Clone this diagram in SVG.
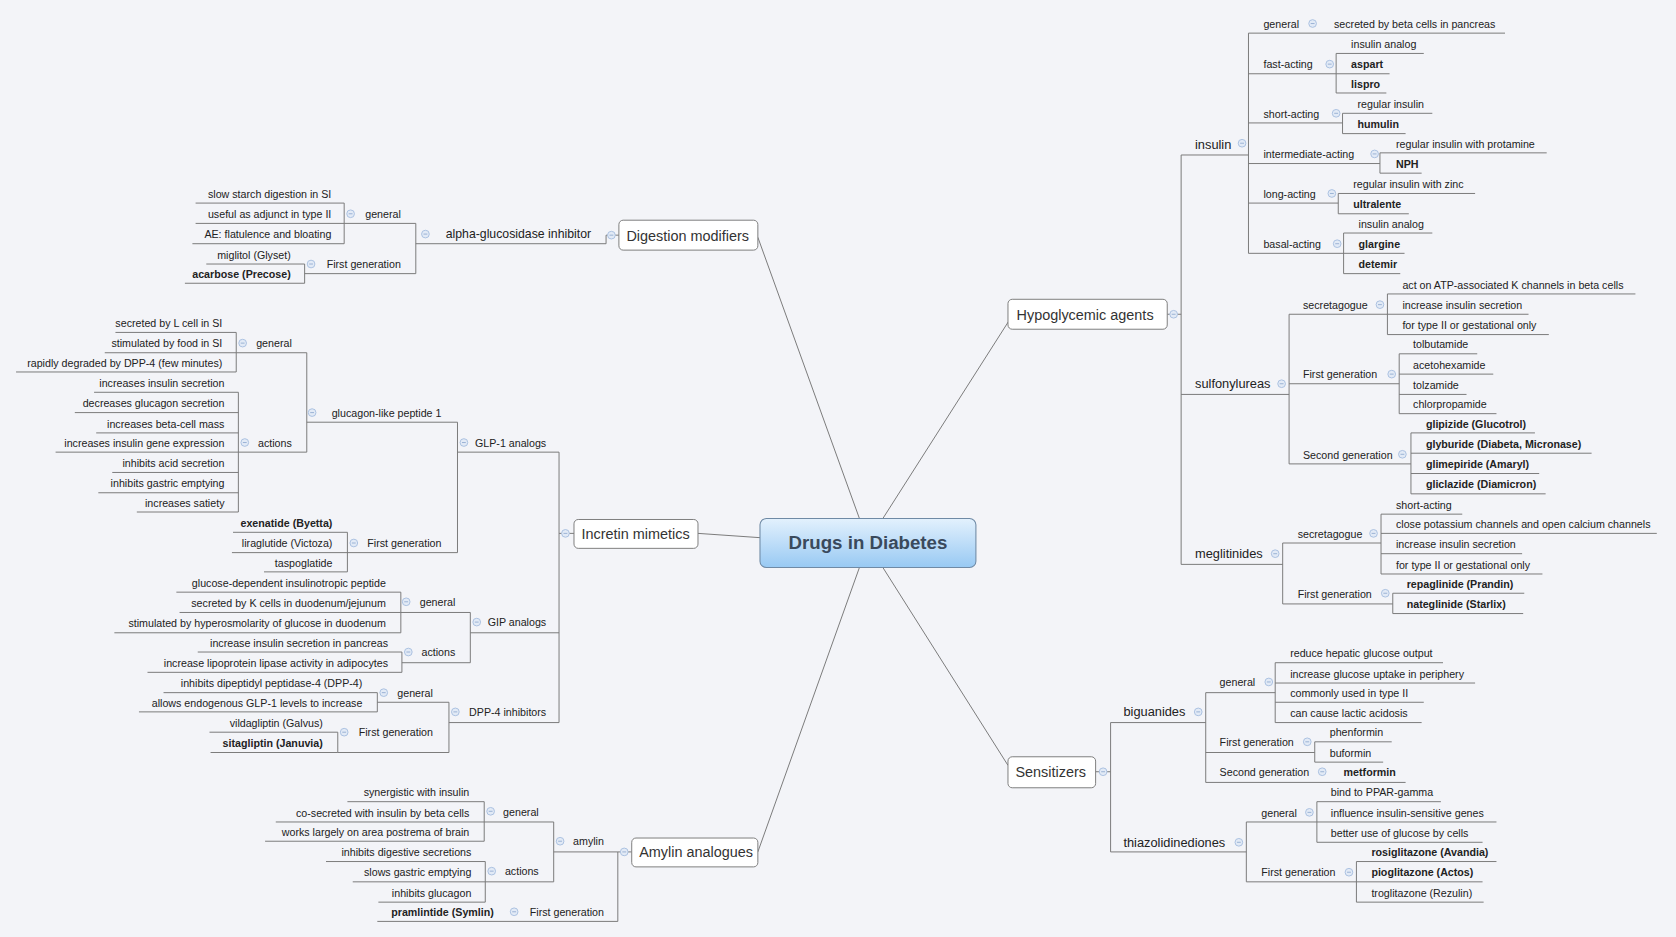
<svg xmlns="http://www.w3.org/2000/svg" width="1676" height="937" viewBox="0 0 1676 937">
<defs>
<linearGradient id="cg" x1="0" y1="0" x2="0" y2="1"><stop offset="0" stop-color="#e3f1fd"/><stop offset="1" stop-color="#98c9f3"/></linearGradient>
<g id="c"><circle r="3.6" fill="#e2eaf6" stroke="#a9c0e0" stroke-width="0.9"/><path d="M-1.8,0H1.8" stroke="#8fa9cf" stroke-width="0.8"/></g>
<style>
text{font-family:"Liberation Sans",Arial,sans-serif;font-size:10px;fill:#222}
.b{font-weight:bold}.e{text-anchor:end}.m{font-size:12px}.k{font-size:13.5px;fill:#333}
.l{fill:none;stroke:#777;stroke-width:0.9}
.box{fill:#fff;stroke:#7a7a7a;stroke-width:0.9}
</style>
</defs>
<rect width="1676" height="937" fill="#f3f4f8"/>
<g transform="scale(1.0689)">
<g id="connectors" class="l">
<path d="M826,485L944,300M804,485L709,222M711,503L653,499M804,531L709,797M826,531L943,716"/>
<path d="M1092,294H1105M1105,145V528M1105,145H1168M1105,369H1206M1105,528H1200"/>
<path d="M1168,31V237M1168,31H1408M1168,69H1250M1168,115H1256M1168,153H1291M1168,190H1252M1168,237H1257"/>
<path d="M1250,50V87H1297M1250,50H1332M1250,69H1300M1256,106V125H1315M1256,106H1340M1291,143V162H1330M1291,143H1447M1252,181V200H1318M1252,181H1380M1257,218V256H1310M1257,218H1340M1257,237H1314"/>
<path d="M1206,294V434M1206,294H1298M1206,359H1309M1206,434H1320M1298,275V313H1449M1298,275H1530M1298,294H1430M1309,331V387H1400M1309,331H1382M1309,350H1397M1309,369H1372M1320,405V462H1446M1320,405H1436M1320,424H1489M1320,443H1440"/>
<path d="M1200,508V565M1200,508H1292M1200,565H1303M1292,481V537H1443M1292,481H1368M1292,499H1550M1292,518H1424M1303,555V574H1425M1303,555H1426"/>
<path d="M1025,722H1039M1039,676V797M1039,676H1128M1039,797H1166M1128,648V732M1128,648H1193M1128,704H1230M1128,732H1315M1193,620V676H1330M1193,620H1350M1193,639H1380M1193,657H1332M1230,694V713H1294M1230,694H1302"/>
<path d="M1166,769V825M1166,769H1232M1166,825H1269M1232,750V788H1387M1232,750H1348M1232,769H1400M1269,806V844H1388M1269,806H1400M1269,825H1387"/>
<path d="M579,220H567V228H389M389,209V256M389,209H322M389,256H285M322,190V228H180M322,190H183M322,209H183M285,247V265H173M285,247H193"/>
<path d="M537,499H523M523,423V676M523,423H428M523,592H440M523,676H420M428,395V517M428,395H287M428,517H325M287,330V423M287,330H221M287,423H223M221,311V348H15M221,311H108M221,330H98M223,367V479H128M223,367H88M223,386H70M223,405H90M223,423H52M223,442H105M223,461H92M325,498V535H247M325,498H218M325,517H217"/>
<path d="M440,573V620M440,573H375M440,620H376M375,554V592H107M375,554H165M375,573H168M376,610V629H138M376,610H185M420,657V704M420,657H353M420,704H316M353,648V666H130M353,648H153M316,685V704H197M316,685H196"/>
<path d="M591,797H578M578,797V862H353M578,797H518M518,769V825M518,769H453M518,825H454M453,750V787H248M453,750H325M453,769H258M454,806V844H354M454,806H305M454,825H330"/>
</g>
<g id="center"><rect x="711" y="485" width="202" height="46" rx="6" fill="url(#cg)" stroke="#6f8aa5"/><text x="812" y="514" text-anchor="middle" class="b" style="font-size:17.5px;fill:#3a4a5c">Drugs in Diabetes</text></g>
<g id="hypoglycemic"><rect class="box" x="943" y="280" width="149" height="28" rx="4"/><text class="k" x="951" y="299">Hypoglycemic agents</text></g>
<g id="sensitizers"><rect class="box" x="943" y="708" width="82" height="29" rx="4"/><text class="k" x="950" y="727">Sensitizers</text></g>
<g id="digestion"><rect class="box" x="579" y="206" width="130" height="28" rx="4"/><text class="k" x="586" y="225">Digestion modifiers</text></g>
<g id="incretin"><rect class="box" x="537" y="486" width="116" height="27" rx="4"/><text class="k" x="544" y="504">Incretin mimetics</text></g>
<g id="amylin-analogues"><rect class="box" x="591" y="784" width="118" height="27" rx="4"/><text class="k" x="598" y="802">Amylin analogues</text></g>
<g id="right-nodes">
<text class="m" x="1118" y="139">insulin</text>
<text x="1182" y="26">general</text><text x="1248" y="26">secreted by beta cells in pancreas</text>
<text x="1182" y="64">fast-acting</text><text x="1264" y="45">insulin analog</text><text class="b" x="1264" y="64">aspart</text><text class="b" x="1264" y="82">lispro</text>
<text x="1182" y="110">short-acting</text><text x="1270" y="101">regular insulin</text><text class="b" x="1270" y="120">humulin</text>
<text x="1182" y="148">intermediate-acting</text><text x="1306" y="138">regular insulin with protamine</text><text class="b" x="1306" y="157">NPH</text>
<text x="1182" y="185">long-acting</text><text x="1266" y="176">regular insulin with zinc</text><text class="b" x="1266" y="195">ultralente</text>
<text x="1182" y="232">basal-acting</text><text x="1271" y="213">insulin analog</text><text class="b" x="1271" y="232">glargine</text><text class="b" x="1271" y="251">detemir</text>
<text class="m" x="1118" y="363">sulfonylureas</text>
<text x="1219" y="289">secretagogue</text><text x="1312" y="270">act on ATP-associated K channels in beta cells</text><text x="1312" y="289">increase insulin secretion</text><text x="1312" y="308">for type II or gestational only</text>
<text x="1219" y="354">First generation</text><text x="1322" y="326">tolbutamide</text><text x="1322" y="345">acetohexamide</text><text x="1322" y="364">tolzamide</text><text x="1322" y="382">chlorpropamide</text>
<text x="1219" y="429">Second generation</text><text class="b" x="1334" y="400">glipizide (Glucotrol)</text><text class="b" x="1334" y="419">glyburide (Diabeta, Micronase)</text><text class="b" x="1334" y="438">glimepiride (Amaryl)</text><text class="b" x="1334" y="457">gliclazide (Diamicron)</text>
<text class="m" x="1118" y="522">meglitinides</text>
<text x="1214" y="503">secretagogue</text><text x="1306" y="476">short-acting</text><text x="1306" y="494">close potassium channels and open calcium channels</text><text x="1306" y="513">increase insulin secretion</text><text x="1306" y="532">for type II or gestational only</text>
<text x="1214" y="559">First generation</text><text class="b" x="1316" y="550">repaglinide (Prandin)</text><text class="b" x="1316" y="569">nateglinide (Starlix)</text>
<text class="m" x="1051" y="670">biguanides</text>
<text x="1141" y="642">general</text><text x="1207" y="615">reduce hepatic glucose output</text><text x="1207" y="634">increase glucose uptake in periphery</text><text x="1207" y="652">commonly used in type II</text><text x="1207" y="671">can cause lactic acidosis</text>
<text x="1141" y="698">First generation</text><text x="1244" y="689">phenformin</text><text x="1244" y="708">buformin</text>
<text x="1141" y="726">Second generation</text><text class="b" x="1257" y="726">metformin</text>
<text class="m" x="1051" y="792">thiazolidinediones</text>
<text x="1180" y="764">general</text><text x="1245" y="745">bind to PPAR-gamma</text><text x="1245" y="764">influence insulin-sensitive genes</text><text x="1245" y="783">better use of glucose by cells</text>
<text x="1180" y="820">First generation</text><text class="b" x="1283" y="801">rosiglitazone (Avandia)</text><text class="b" x="1283" y="820">pioglitazone (Actos)</text><text x="1283" y="839">troglitazone (Rezulin)</text>
</g>
<g id="left-nodes" class="e">
<text class="e" x="553" y="223" style="font-size:11.5px">alpha-glucosidase inhibitor</text>
<text class="e" x="375" y="204">general</text><text class="e" x="310" y="185">slow starch digestion in SI</text><text class="e" x="310" y="204">useful as adjunct in type II</text><text class="e" x="310" y="223">AE: flatulence and bloating</text>
<text class="e" x="375" y="251">First generation</text><text class="e" x="272" y="242">miglitol (Glyset)</text><text class="e b" x="272" y="260">acarbose (Precose)</text>
<text class="e" x="511" y="418">GLP-1 analogs</text>
<text class="e" x="413" y="390">glucagon-like peptide 1</text>
<text class="e" x="273" y="325">general</text><text class="e" x="208" y="306">secreted by L cell in SI</text><text class="e" x="208" y="325">stimulated by food in SI</text><text class="e" x="208" y="343">rapidly degraded by DPP-4 (few minutes)</text>
<text class="e" x="273" y="418">actions</text><text class="e" x="210" y="362">increases insulin secretion</text><text class="e" x="210" y="381">decreases glucagon secretion</text><text class="e" x="210" y="400">increases beta-cell mass</text><text class="e" x="210" y="418">increases insulin gene expression</text><text class="e" x="210" y="437">inhibits acid secretion</text><text class="e" x="210" y="456">inhibits gastric emptying</text><text class="e" x="210" y="474">increases satiety</text>
<text class="e" x="413" y="512">First generation</text><text class="e b" x="311" y="493">exenatide (Byetta)</text><text class="e" x="311" y="512">liraglutide (Victoza)</text><text class="e" x="311" y="530">taspoglatide</text>
<text class="e" x="511" y="586">GIP analogs</text>
<text class="e" x="426" y="567">general</text><text class="e" x="361" y="549">glucose-dependent insulinotropic peptide</text><text class="e" x="361" y="568">secreted by K cells in duodenum/jejunum</text><text class="e" x="361" y="587">stimulated by hyperosmolarity of glucose in duodenum</text>
<text class="e" x="426" y="614">actions</text><text class="e" x="363" y="605">increase insulin secretion in pancreas</text><text class="e" x="363" y="624">increase lipoprotein lipase activity in adipocytes</text>
<text class="e" x="511" y="670">DPP-4 inhibitors</text>
<text class="e" x="405" y="652">general</text><text class="e" x="339" y="643">inhibits dipeptidyl peptidase-4 (DPP-4)</text><text class="e" x="339" y="661">allows endogenous GLP-1 levels to increase</text>
<text class="e" x="405" y="689">First generation</text><text class="e" x="302" y="680">vildagliptin (Galvus)</text><text class="e b" x="302" y="699">sitagliptin (Januvia)</text>
<text class="e" x="565" y="791">amylin</text>
<text class="e" x="504" y="763">general</text><text class="e" x="439" y="745">synergistic with insulin</text><text class="e" x="439" y="764">co-secreted with insulin by beta cells</text><text class="e" x="439" y="782">works largely on area postrema of brain</text>
<text class="e" x="504" y="819">actions</text><text class="e" x="441" y="801">inhibits digestive secretions</text><text class="e" x="441" y="820">slows gastric emptying</text><text class="e" x="441" y="839">inhibits glucagon</text>
<text class="e" x="565" y="857">First generation</text><text class="e b" x="462" y="857">pramlintide (Symlin)</text>
</g>
<g id="collapse-markers">
<use href="#c" x="1098" y="294"/><use href="#c" x="1162" y="134"/><use href="#c" x="1228" y="22"/><use href="#c" x="1244" y="60"/><use href="#c" x="1250" y="106"/><use href="#c" x="1286" y="144"/><use href="#c" x="1246" y="181"/><use href="#c" x="1251" y="228"/><use href="#c" x="1199" y="359"/><use href="#c" x="1291" y="285"/><use href="#c" x="1302" y="350"/><use href="#c" x="1312" y="425"/><use href="#c" x="1193" y="518"/><use href="#c" x="1285" y="499"/><use href="#c" x="1296" y="555"/><use href="#c" x="1032" y="722"/><use href="#c" x="1121" y="666"/><use href="#c" x="1187" y="638"/><use href="#c" x="1223" y="694"/><use href="#c" x="1237" y="722"/><use href="#c" x="1159" y="788"/><use href="#c" x="1225" y="760"/><use href="#c" x="1262" y="816"/>
<use href="#c" x="572" y="220"/><use href="#c" x="398" y="219"/><use href="#c" x="328" y="200"/><use href="#c" x="291" y="247"/><use href="#c" x="529" y="499"/><use href="#c" x="434" y="414"/><use href="#c" x="292" y="386"/><use href="#c" x="227" y="321"/><use href="#c" x="229" y="414"/><use href="#c" x="331" y="508"/><use href="#c" x="446" y="582"/><use href="#c" x="380" y="563"/><use href="#c" x="382" y="610"/><use href="#c" x="426" y="666"/><use href="#c" x="359" y="648"/><use href="#c" x="322" y="685"/><use href="#c" x="584" y="797"/><use href="#c" x="524" y="787"/><use href="#c" x="459" y="759"/><use href="#c" x="460" y="815"/><use href="#c" x="481" y="853"/>
</g>
</g>
</svg>
